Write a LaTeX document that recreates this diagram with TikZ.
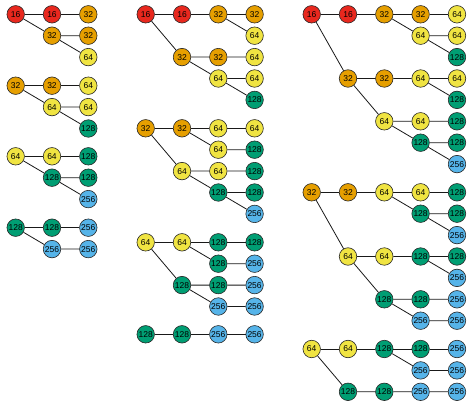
\documentclass[tikz,border=0pt]{standalone}
\usepackage{fontspec}
\setmainfont{Liberation Sans}
\definecolor{c16}{HTML}{E8281E}
\definecolor{c32}{HTML}{E69F00}
\definecolor{c64}{HTML}{F0E442}
\definecolor{c128}{HTML}{009E73}
\definecolor{c256}{HTML}{56B4E9}
\tikzset{
  vtx/.style={circle, draw=black!85, line width=0.6pt, minimum size=17.5pt,
    inner sep=0pt, font=\fontsize{8.5}{8.5}\selectfont},
  v16/.style={vtx, fill=c16},
  v32/.style={vtx, fill=c32},
  v64/.style={vtx, fill=c64},
  v128/.style={vtx, fill=c128},
  v256/.style={vtx, fill=c256},
  edge/.style={line width=0.8pt, black!90}
}
\begin{document}
\begin{tikzpicture}[x=1pt, y=-1pt]
    \useasboundingbox (0,0) rectangle (474,406);
    % define variables.
    \def\la{15.7} \def\lb{52} \def\lc{88.3}
    \def\ma{145.7} \def\mb{182} \def\mc{218.3} \def\md{254.6}
    \def\ra{311.7} \def\rb{348} \def\rc{384.3} \def\rd{420.6} \def\re{457}
    % left column: draw the vertices
    \node[v16] (l1a) at (\la,14.3) {16};
    \node[v16] (l1b) at (\lb,14.3) {16};
    \node[v32] (l1c) at (\lc,14.3) {32};
    \node[v32] (l1d) at (\lb,35.7) {32};
    \node[v32] (l1e) at (\lc,35.7) {32};
    \node[v64] (l1f) at (\lc,57.1) {64};
    \node[v32] (l2a) at (\la,85.7) {32};
    \node[v32] (l2b) at (\lb,85.7) {32};
    \node[v64] (l2c) at (\lc,85.7) {64};
    \node[v64] (l2d) at (\lb,107.1) {64};
    \node[v64] (l2e) at (\lc,107.1) {64};
    \node[v128] (l2f) at (\lc,128.5) {128};
    \node[v64] (l3a) at (\la,156.3) {64};
    \node[v64] (l3b) at (\lb,156.3) {64};
    \node[v128] (l3c) at (\lc,156.3) {128};
    \node[v128] (l3d) at (\lb,177.7) {128};
    \node[v128] (l3e) at (\lc,177.7) {128};
    \node[v256] (l3f) at (\lc,199.1) {256};
    \node[v128] (l4a) at (\la,227.7) {128};
    \node[v128] (l4b) at (\lb,227.7) {128};
    \node[v256] (l4c) at (\lc,227.7) {256};
    \node[v256] (l4d) at (\lb,249.1) {256};
    \node[v256] (l4e) at (\lc,249.1) {256};
    % left column: draw the edges
    \draw[edge] (l1a) -- (l1b) -- (l1c);
    \draw[edge] (l1a) -- (l1d) -- (l1e);
    \draw[edge] (l1d) -- (l1f);
    \draw[edge] (l2a) -- (l2b) -- (l2c);
    \draw[edge] (l2a) -- (l2d) -- (l2e);
    \draw[edge] (l2d) -- (l2f);
    \draw[edge] (l3a) -- (l3b) -- (l3c);
    \draw[edge] (l3a) -- (l3d) -- (l3e);
    \draw[edge] (l3d) -- (l3f);
    \draw[edge] (l4a) -- (l4b) -- (l4c);
    \draw[edge] (l4a) -- (l4d) -- (l4e);
    % middle column: draw the vertices
    \node[v16] (m1a) at (\ma,14.3) {16};
    \node[v16] (m1b) at (\mb,14.3) {16};
    \node[v32] (m1c) at (\mc,14.3) {32};
    \node[v32] (m1d) at (\md,14.3) {32};
    \node[v64] (m1e) at (\md,35.7) {64};
    \node[v32] (m1f) at (\mb,57.1) {32};
    \node[v32] (m1g) at (\mc,57.1) {32};
    \node[v64] (m1h) at (\md,57.1) {64};
    \node[v64] (m1i) at (\mc,78.5) {64};
    \node[v64] (m1j) at (\md,78.5) {64};
    \node[v128] (m1k) at (\md,99.9) {128};
    \node[v32] (m2a) at (\ma,128.3) {32};
    \node[v32] (m2b) at (\mb,128.3) {32};
    \node[v64] (m2c) at (\mc,128.3) {64};
    \node[v64] (m2d) at (\md,128.3) {64};
    \node[v64] (m2e) at (\mc,149.7) {64};
    \node[v128] (m2f) at (\md,149.7) {128};
    \node[v64] (m2g) at (\mb,171.1) {64};
    \node[v64] (m2h) at (\mc,171.1) {64};
    \node[v128] (m2i) at (\md,171.1) {128};
    \node[v128] (m2j) at (\mc,192.5) {128};
    \node[v128] (m2k) at (\md,192.5) {128};
    \node[v256] (m2l) at (\md,213.9) {256};
    \node[v64] (m3a) at (\ma,242.3) {64};
    \node[v64] (m3b) at (\mb,242.3) {64};
    \node[v128] (m3c) at (\mc,242.3) {128};
    \node[v128] (m3d) at (\md,242.3) {128};
    \node[v128] (m3e) at (\mc,263.7) {128};
    \node[v256] (m3f) at (\md,263.7) {256};
    \node[v128] (m3g) at (\mb,285.1) {128};
    \node[v128] (m3h) at (\mc,285.1) {128};
    \node[v256] (m3i) at (\md,285.1) {256};
    \node[v256] (m3j) at (\mc,306.5) {256};
    \node[v256] (m3k) at (\md,306.5) {256};
    \node[v128] (m4a) at (\ma,334.3) {128};
    \node[v128] (m4b) at (\mb,334.3) {128};
    \node[v256] (m4c) at (\mc,334.3) {256};
    \node[v256] (m4d) at (\md,334.3) {256};
    % middle column: draw the edges
    \draw[edge] (m1a) -- (m1b) -- (m1c) -- (m1d);
    \draw[edge] (m1c) -- (m1e);
    \draw[edge] (m1a) -- (m1f) -- (m1g) -- (m1h);
    \draw[edge] (m1f) -- (m1i) -- (m1j);
    \draw[edge] (m1i) -- (m1k);
    \draw[edge] (m2a) -- (m2b) -- (m2c) -- (m2d);
    \draw[edge] (m2b) -- (m2e) -- (m2f);
    \draw[edge] (m2a) -- (m2g) -- (m2h) -- (m2i);
    \draw[edge] (m2g) -- (m2j) -- (m2k);
    \draw[edge] (m2j) -- (m2l);
    \draw[edge] (m3a) -- (m3b) -- (m3c) -- (m3d);
    \draw[edge] (m3b) -- (m3e) -- (m3f);
    \draw[edge] (m3a) -- (m3g) -- (m3h) -- (m3i);
    \draw[edge] (m3g) -- (m3j) -- (m3k);
    \draw[edge] (m4a) -- (m4b) -- (m4c) -- (m4d);
    % right column: draw the vertices
    \node[v16] (r1a) at (\ra,14.3) {16};
    \node[v16] (r1b) at (\rb,14.3) {16};
    \node[v32] (r1c) at (\rc,14.3) {32};
    \node[v32] (r1d) at (\rd,14.3) {32};
    \node[v64] (r1e) at (\re,14.3) {64};
    \node[v64] (r1f) at (\rd,35.7) {64};
    \node[v64] (r1g) at (\re,35.7) {64};
    \node[v128] (r1h) at (\re,57.1) {128};
    \node[v32] (r1i) at (\rb,78.5) {32};
    \node[v32] (r1j) at (\rc,78.5) {32};
    \node[v64] (r1k) at (\rd,78.5) {64};
    \node[v64] (r1l) at (\re,78.5) {64};
    \node[v128] (r1m) at (\re,99.9) {128};
    \node[v64] (r1n) at (\rc,121.3) {64};
    \node[v64] (r1o) at (\rd,121.3) {64};
    \node[v128] (r1p) at (\re,121.3) {128};
    \node[v128] (r1q) at (\rd,142.7) {128};
    \node[v128] (r1s) at (\re,142.7) {128};
    \node[v256] (r1t) at (\re,164.1) {256};
    \node[v32] (r2a) at (\ra,192.3) {32};
    \node[v32] (r2b) at (\rb,192.3) {32};
    \node[v64] (r2c) at (\rc,192.3) {64};
    \node[v64] (r2d) at (\rd,192.3) {64};
    \node[v128] (r2e) at (\re,192.3) {128};
    \node[v128] (r2f) at (\rd,213.7) {128};
    \node[v128] (r2g) at (\re,213.7) {128};
    \node[v256] (r2h) at (\re,235.1) {256};
    \node[v64] (r2i) at (\rb,256.5) {64};
    \node[v64] (r2j) at (\rc,256.5) {64};
    \node[v128] (r2k) at (\rd,256.5) {128};
    \node[v128] (r2l) at (\re,256.5) {128};
    \node[v256] (r2m) at (\re,277.9) {256};
    \node[v128] (r2n) at (\rc,299.3) {128};
    \node[v128] (r2o) at (\rd,299.3) {128};
    \node[v256] (r2p) at (\re,299.3) {256};
    \node[v256] (r2q) at (\rd,320.7) {256};
    \node[v256] (r2s) at (\re,320.7) {256};
    \node[v64] (r3a) at (\ra,349) {64};
    \node[v64] (r3b) at (\rb,349) {64};
    \node[v128] (r3c) at (\rc,349) {128};
    \node[v128] (r3d) at (\rd,349) {128};
    \node[v256] (r3e) at (\re,349) {256};
    \node[v256] (r3f) at (\rd,370.4) {256};
    \node[v256] (r3g) at (\re,370.4) {256};
    \node[v128] (r3h) at (\rb,391.8) {128};
    \node[v128] (r3i) at (\rc,391.8) {128};
    \node[v256] (r3j) at (\rd,391.8) {256};
    \node[v256] (r3k) at (\re,391.8) {256};
    % right column: draw the edges
    \draw[edge] (r1a) -- (r1b) -- (r1c) -- (r1d) -- (r1e);
    \draw[edge] (r1c) -- (r1f) -- (r1g);
    \draw[edge] (r1f) -- (r1h);
    \draw[edge] (r1a) -- (r1i) -- (r1j) -- (r1k) -- (r1l);
    \draw[edge] (r1k) -- (r1m);
    \draw[edge] (r1i) -- (r1n) -- (r1o) -- (r1p);
    \draw[edge] (r1n) -- (r1q) -- (r1s);
    \draw[edge] (r1q) -- (r1t);
    \draw[edge] (r2a) -- (r2b) -- (r2c) -- (r2d) -- (r2e);
    \draw[edge] (r2c) -- (r2f) -- (r2g);
    \draw[edge] (r2f) -- (r2h);
    \draw[edge] (r2a) -- (r2i) -- (r2j) -- (r2k) -- (r2l);
    \draw[edge] (r2k) -- (r2m);
    \draw[edge] (r2i) -- (r2n) -- (r2o) -- (r2p);
    \draw[edge] (r2n) -- (r2q) -- (r2s);
    \draw[edge] (r3a) -- (r3b) -- (r3c) -- (r3d) -- (r3e);
    \draw[edge] (r3c) -- (r3f) -- (r3g);
    \draw[edge] (r3a) -- (r3h) -- (r3i) -- (r3j) -- (r3k);
\end{tikzpicture}
\end{document}
